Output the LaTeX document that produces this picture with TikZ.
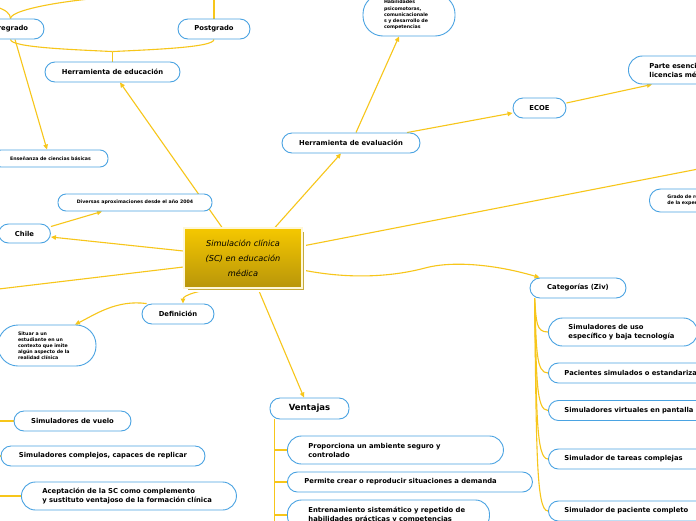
\documentclass[tikz,border=0pt]{standalone}
\usepackage{fontspec}
\setmainfont{DejaVu Sans}
\usetikzlibrary{arrows.meta,calc,shadows}

\definecolor{linkgold}{HTML}{F7C61A}
\definecolor{boxblue}{HTML}{4AA3E2}
\definecolor{titletop}{HTML}{F5C800}
\definecolor{titlebot}{HTML}{B8950A}

\pgfdeclarelayer{background}
\pgfsetlayers{background,main}

\begin{document}
\begin{tikzpicture}[
  x=1pt, y=-1pt,
  font=\bfseries\fontsize{6.8}{9}\selectfont,
  topic/.style={draw=boxblue, fill=white, line width=0.9pt, rounded corners=10pt,
                minimum height=20pt, inner sep=2pt, align=center},
  tiny/.style={font=\bfseries\fontsize{4.7}{6.2}\selectfont},
  leftbox/.style={anchor=west, align=left},
  link/.style={draw=linkgold, line width=1.1pt},
  arrow/.style={link, -{Triangle[length=5pt,width=4.5pt]}},
  central/.style={rectangle, minimum width=118pt, minimum height=60pt,
                  top color=titletop, bottom color=titlebot,
                  draw=white!85!titletop, line width=1.2pt,
                  general shadow={fill=titlebot!80!white, draw=white,
                                  shadow xshift=3pt, shadow yshift=-3pt},
                  font=\mdseries\itshape\fontsize{8.2}{15}\selectfont, align=center},
]
\useasboundingbox (0,0) rectangle (696,520);
\clip (0,0) rectangle (696,520);

% ---------- centre ----------
\node[central] (titulo) at (243,258) {Simulación clínica\\(SC) en educación\\médica};

% ---------- upper left: education ----------
\node[topic, minimum width=67pt] (pregrado) at (10.5,29) {Pregrado};
\node[topic, minimum width=72pt] (postgrado) at (214,29) {Postgrado};
\node[topic, minimum width=135pt] (herredu) at (112.5,72) {Herramienta de educación};
\node[topic, tiny, minimum width=115pt, minimum height=17pt, rounded corners=8pt]
  (ensenanza) at (50.5,158.5) {Enseñanza de ciencias básicas};

% ---------- upper right: evaluation ----------
\node[topic, minimum width=138pt] (herreval) at (351,143) {Herramienta de evaluación};
\node[topic, tiny, minimum width=92pt, minimum height=42pt, rounded corners=20pt,
      text width=50pt, align=left]
  (habilidades) at (409,15) {Habilidades\\psicomotoras,\\comunicacionale\\s y desarrollo de\\competencias};
\node[topic, minimum width=53pt] (ecoe) at (539.5,108) {ECOE};
\node[topic, leftbox, minimum height=28pt, rounded corners=14pt, inner xsep=21pt, text width=108pt]
  (parte) at (628,70) {Parte esencial de\\licencias médicas};
\node[topic, tiny, leftbox, minimum height=23pt, rounded corners=11pt, inner xsep=18pt, text width=84pt]
  (grado) at (649,200.5) {Grado de realismo\\de la experiencia};

% ---------- left: Chile, definition ----------
\node[topic, minimum width=52pt, minimum height=19pt] (chile) at (24.5,233.5) {Chile};
\node[topic, tiny, minimum width=154pt, minimum height=17pt, rounded corners=8pt]
  (diversas) at (135,202.5) {Diversas aproximaciones desde el año 2004};
\node[topic, minimum width=72pt] (definicion) at (178,314) {Definición};
\node[topic, minimum width=98pt, minimum height=41pt, rounded corners=20pt,
      text width=58pt, align=left, font=\bfseries\fontsize{4.7}{6.1}\selectfont]
  (situar) at (47,345.5) {Situar a un\\estudiante en un\\contexto que imite\\algún aspecto de la\\realidad clínica};

% ---------- right: categories ----------
\node[topic, minimum width=96pt] (categorias) at (578,288) {Categorías (Ziv)};
\node[topic, leftbox, minimum height=28pt, rounded corners=14pt, inner xsep=20pt, text width=109pt]
  (cat1) at (548,332) {Simuladores de uso\\específico y baja tecnología};
\node[topic, leftbox, inner xsep=16pt, text width=168pt] (cat2) at (548,373) {Pacientes simulados o estandarizados};
\node[topic, leftbox, inner xsep=16pt, text width=168pt] (cat3) at (548,410.5) {Simuladores virtuales en pantalla};
\node[topic, leftbox, inner xsep=16pt, text width=140pt] (cat4) at (548,459) {Simulador de tareas complejas};
\node[topic, leftbox, inner xsep=16pt, text width=168pt] (cat5) at (548,511) {Simulador de paciente completo};

% ---------- bottom: advantages ----------
\node[topic, minimum width=79pt, minimum height=21pt, font=\bfseries\fontsize{8.5}{10}\selectfont]
  (ventajas) at (309.5,408.5) {Ventajas};
\node[topic, leftbox, minimum height=28pt, rounded corners=14pt, inner xsep=21pt, text width=174pt]
  (ven1) at (287,450) {Proporciona un ambiente seguro y\\controlado};
\node[topic, leftbox, inner xsep=17pt, text width=211pt]
  (ven2) at (287,482) {Permite crear o reproducir situaciones a demanda};
\node[topic, leftbox, minimum height=30pt, rounded corners=14pt, inner xsep=21pt, text width=160pt]
  (ven3) at (287,515) {Entrenamiento sistemático y repetido de\\habilidades prácticas y competencias};

% ---------- bottom left ----------
\node[topic, minimum width=117pt] (vuelo) at (72.5,421) {Simuladores de vuelo};
\node[topic, minimum width=204pt] (complejos) at (103,456) {Simuladores complejos, capaces de replicar};
\node[topic, leftbox, minimum height=28pt, rounded corners=14pt, inner xsep=21pt, text width=173pt]
  (aceptacion) at (21,496) {Aceptación de la SC como complemento\\y sustituto ventajoso de la formación clínica};

% ---------- free ends outside the frame ----------
\coordinate (offwest) at (-60,296);
\coordinate (offeast) at (760,157);
\coordinate (offnw) at (-40,3);
\coordinate (offne) at (120,-3);
\coordinate (offpost) at (214,-10);
\coordinate (lefttrunk) at (-8,380);
\coordinate (wavemid) at (425,268);
\coordinate (jedu) at ($(herredu.north)+(0,-10)$);
\coordinate (cattrunk) at ($(categorias.south west)+(5,0)$);
\coordinate (ventrunk) at ($(ventajas.south west)+(5,0)$);
\coordinate (venend) at ($(ventrunk)+(0,120)$);

\begin{pgfonlayer}{background}
\fill[white] (0,0) rectangle (696,520);

% centre to main branches
\draw[arrow] ([xshift=-21pt]titulo.north) -- ([xshift=7.5pt]herredu.south);
\draw[arrow] ([xshift=32pt]titulo.north) -- ([xshift=-10pt]herreval.south);
\draw[arrow] ([yshift=7pt]titulo.west) -- ([yshift=-3.5pt]chile.east);
\draw[link] ([yshift=-9pt]titulo.west) -- (offwest);
\draw[link] ([yshift=12pt]titulo.east) -- (offeast);
\draw[arrow] ([yshift=-12pt]titulo.east) .. controls +(50,10) and +(-30,8) .. (wavemid)
  .. controls +(30,-8) and +(-40,-12) .. ([xshift=10pt]categorias.north west);
\draw[arrow] ([xshift=-17pt]titulo.south) .. controls +(-25,0) and +(0,-8) .. ([xshift=5pt]definicion.north);
\draw[arrow] ([xshift=15pt]titulo.south) -- ([xshift=-5.5pt]ventajas.north);

% education
\draw[link] (herredu.north) -- (jedu);
\draw[link] (jedu) .. controls +(-40,-2) and +(0,8) .. (pregrado.south);
\draw[link] (jedu) .. controls +(40,-2) and +(0,8) .. (postgrado.south);
\draw[link] (pregrado.north) .. controls +(0,-10) and +(-40,1) .. (offne);
\draw[link] (pregrado.north) .. controls +(0,-10) and +(30,0) .. (offnw);
\draw[link] (postgrado.north) -- (offpost);
\draw[arrow] ([xshift=4.5pt]pregrado.south) -- ([xshift=-3.5pt]ensenanza.north);

% evaluation
\draw[arrow] ([xshift=5pt]herreval.north) -- ([xshift=-10pt]habilidades.south);
\draw[arrow] ([xshift=56pt]herreval.north) -- ([yshift=-5pt]ecoe.west);
\draw[arrow] ([yshift=5pt]ecoe.east) -- ([xshift=24pt]parte.south west);

% Chile and definition
\draw[arrow] ([yshift=7pt]chile.east) -- ([xshift=-33pt]diversas.south);
\draw[arrow] ([xshift=5pt]definicion.north west) .. controls +(-30,-4) and +(20,-10) .. ([xshift=28pt]situar.north);

% categories
\foreach \c/\d in {cat1/24,cat2/52,cat3/80,cat4/113,cat5/150}
  \draw[link] (cattrunk) .. controls +(2,\d) and +(-12,0) .. (\c.west);

% advantages
\draw[link] (ventrunk) -- (venend);
\foreach \c in {ven1,ven2,ven3}
  \draw[link] (ventrunk) |- (\c.west);

% bottom left
\foreach \c in {vuelo,complejos,aceptacion}
  \draw[link] (lefttrunk) |- (\c.west);
\end{pgfonlayer}
\end{tikzpicture}
\end{document}
